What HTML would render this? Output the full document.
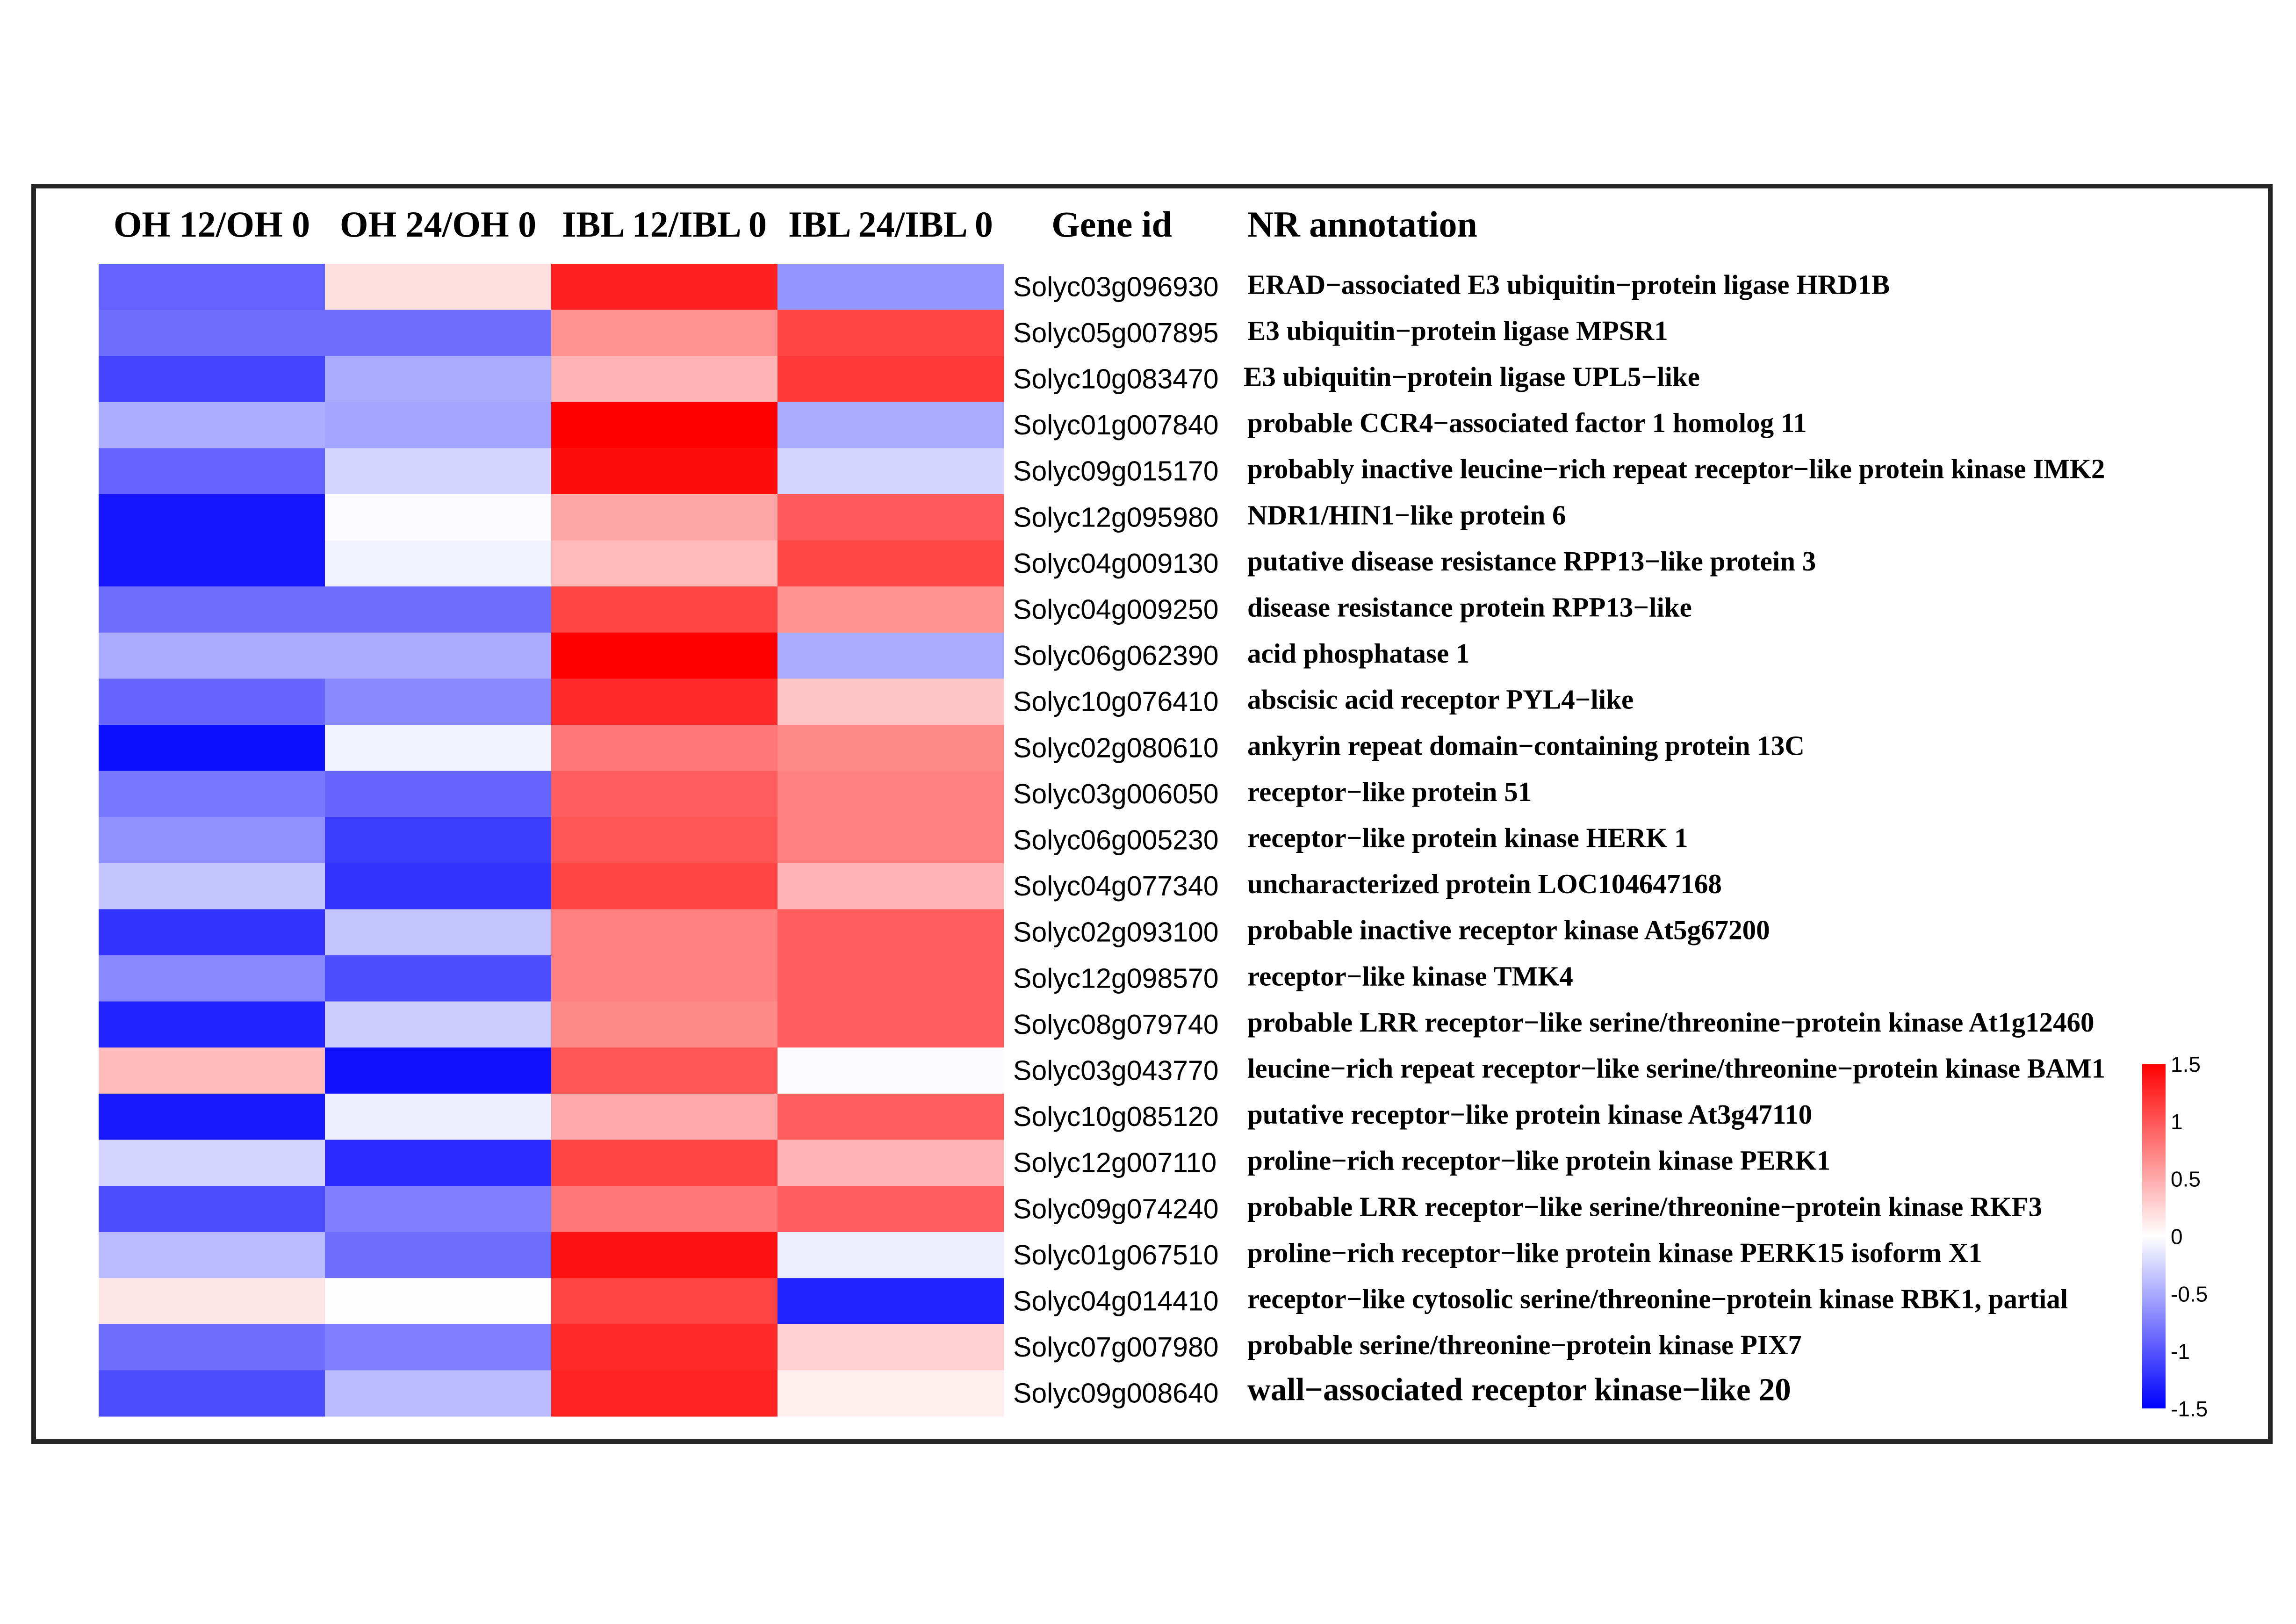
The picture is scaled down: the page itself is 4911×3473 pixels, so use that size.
<!DOCTYPE html>
<html><head><meta charset="utf-8"><style>
html,body{margin:0;padding:0;background:#fff;}
svg{display:block;}
.hdr{font-family:"Liberation Serif",serif;font-weight:bold;font-size:78px;fill:#000;}
.gid{font-family:"Liberation Sans",sans-serif;font-size:59px;fill:#000;}
.ann{font-family:"Liberation Serif",serif;font-weight:bold;font-size:59px;fill:#000;}
.cbl{font-family:"Liberation Sans",sans-serif;font-size:46px;fill:#000;}
</style></head><body>
<svg id="chart" width="4911" height="3473" viewBox="0 0 4911 3473" xmlns="http://www.w3.org/2000/svg">
<rect x="0" y="0" width="4911" height="3473" fill="#fff"/>
<rect x="72" y="398" width="4784" height="2685" fill="none" stroke="#262626" stroke-width="10"/>
<defs><linearGradient id="cbg" x1="0" y1="0" x2="0" y2="1">
<stop offset="0" stop-color="#ff0000"/><stop offset="0.5" stop-color="#ffffff"/><stop offset="1" stop-color="#0000ff"/>
</linearGradient></defs>
<g id="cells"></g>
<g id="labels"></g>
<rect x="4582" y="2275" width="50" height="737" fill="url(#cbg)"/>
<g id="cbticks"></g>
</svg>
<script>
const columns = ["OH 12/OH 0","OH 24/OH 0","IBL 12/IBL 0","IBL 24/IBL 0"];
const geneIds = ["Solyc03g096930","Solyc05g007895","Solyc10g083470","Solyc01g007840","Solyc09g015170","Solyc12g095980","Solyc04g009130","Solyc04g009250","Solyc06g062390","Solyc10g076410","Solyc02g080610","Solyc03g006050","Solyc06g005230","Solyc04g077340","Solyc02g093100","Solyc12g098570","Solyc08g079740","Solyc03g043770","Solyc10g085120","Solyc12g007110","Solyc09g074240","Solyc01g067510","Solyc04g014410","Solyc07g007980","Solyc09g008640"];
const annotations = ["ERAD\u2212associated E3 ubiquitin\u2212protein ligase HRD1B","E3 ubiquitin\u2212protein ligase MPSR1","E3 ubiquitin\u2212protein ligase UPL5\u2212like","probable CCR4\u2212associated factor 1 homolog 11","probably inactive leucine\u2212rich repeat receptor\u2212like protein kinase IMK2","NDR1/HIN1\u2212like protein 6","putative disease resistance RPP13\u2212like protein 3","disease resistance protein RPP13\u2212like","acid phosphatase 1","abscisic acid receptor PYL4\u2212like","ankyrin repeat domain\u2212containing protein 13C","receptor\u2212like protein 51","receptor\u2212like protein kinase HERK 1","uncharacterized protein LOC104647168","probable inactive receptor kinase At5g67200","receptor\u2212like kinase TMK4","probable LRR receptor\u2212like serine/threonine\u2212protein kinase At1g12460","leucine\u2212rich repeat receptor\u2212like serine/threonine\u2212protein kinase BAM1","putative receptor\u2212like protein kinase At3g47110","proline\u2212rich receptor\u2212like protein kinase PERK1","probable LRR receptor\u2212like serine/threonine\u2212protein kinase RKF3","proline\u2212rich receptor\u2212like protein kinase PERK15 isoform X1","receptor\u2212like cytosolic serine/threonine\u2212protein kinase RBK1, partial","probable serine/threonine\u2212protein kinase PIX7","wall\u2212associated receptor kinase\u2212like 20"];
const oh12 = [-0.92,-0.85,-1.1,-0.48,-0.92,-1.38,-1.38,-0.85,-0.5,-0.9,-1.42,-0.8,-0.65,-0.35,-1.2,-0.7,-1.3,0.4,-1.35,-0.25,-1.05,-0.4,0.15,-0.85,-1.05];
const oh24 = [0.18,-0.85,-0.5,-0.53,-0.25,-0.02,-0.08,-0.85,-0.5,-0.7,-0.08,-0.9,-1.15,-1.2,-0.35,-1.05,-0.3,-1.4,-0.1,-1.25,-0.75,-0.85,0.01,-0.75,-0.4];
const ibl12 = [1.31,0.65,0.44,1.5,1.42,0.53,0.41,1.1,1.5,1.25,0.8,0.95,1.0,1.1,0.75,0.75,0.7,1.0,0.5,1.1,0.8,1.4,1.1,1.25,1.3];
const ibl24 = [-0.62,1.1,1.17,-0.5,-0.25,0.97,1.07,0.65,-0.5,0.35,0.7,0.75,0.75,0.45,0.95,0.95,0.95,-0.02,0.95,0.45,0.95,-0.1,-1.3,0.28,0.1];
const cbTicks = [1.5,1,0.5,0,-0.5,-1,-1.5];
const series = [oh12,oh24,ibl12,ibl24];

const NS="http://www.w3.org/2000/svg";
const x0=211,colW=484,y0=564,rowH=98.6;
const cbTop=2275,cbH=737,vmax=1.5;
function xCol(i){return x0+i*colW;}
function yRow(r){return y0+r*rowH;}
function yCb(v){return cbTop+(vmax-v)/(2*vmax)*cbH;}
function color(v){
  const t=Math.min(1,Math.abs(v)/vmax);const c=Math.round(255*(1-t));
  return v>=0?`rgb(255,${c},${c})`:`rgb(${c},${c},255)`;
}
const cells=document.getElementById('cells');
series.forEach((s,ci)=>{s.forEach((v,ri)=>{
  const r=document.createElementNS(NS,'rect');
  r.setAttribute('x',xCol(ci));r.setAttribute('y',yRow(ri));
  r.setAttribute('width',colW+0.5);r.setAttribute('height',rowH+0.5);
  r.setAttribute('fill',color(v));
  
  
  cells.appendChild(r);
});});
const labels=document.getElementById('labels');
function txt(cls,x,y,s,anchor,name){
  const t=document.createElementNS(NS,'text');
  t.setAttribute('class',cls);t.setAttribute('x',x);t.setAttribute('y',y);
  if(anchor)t.setAttribute('text-anchor',anchor);
  t.textContent=s;
  
  
  labels.appendChild(t);return t;
}
columns.forEach((c,i)=>txt('hdr',xCol(i)+colW/2,506,c,'middle','column-header'));
txt('hdr',2378,506,'Gene id','middle','gene-id-header');
txt('hdr',2668,506,'NR annotation',null,'nr-annotation-header');
geneIds.forEach((g,i)=>txt('gid',2167,yRow(i)+rowH/2+20,g,null,'gene-id-label'));
annotations.forEach((a,i)=>{
  const t=txt('ann',i==2?2660:2668,yRow(i)+rowH/2+15,a,null,'annotation-label');
  if(i==annotations.length-1)t.setAttribute('style','font-size:69px');
});
const cbt=document.getElementById('cbticks');
cbTicks.forEach(v=>{
  const t=document.createElementNS(NS,'text');
  t.setAttribute('class','cbl');t.setAttribute('x',4643);t.setAttribute('y',yCb(v)+17);
  t.textContent=String(v);
  
  
  cbt.appendChild(t);
});
</script>
</body></html>
